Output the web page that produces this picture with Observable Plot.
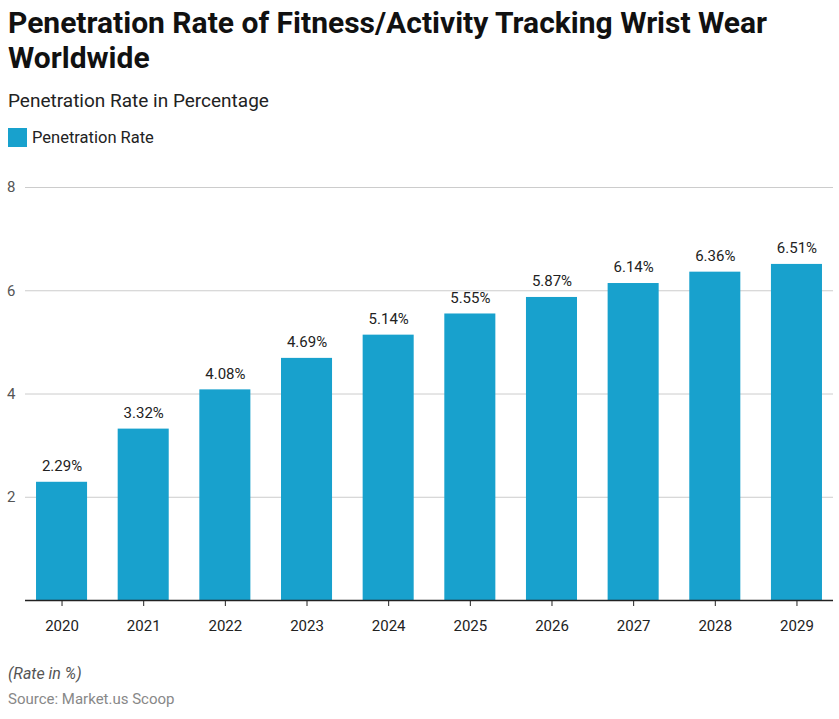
<!DOCTYPE html>
<html><head><meta charset="utf-8">
<script src="https://cdn.jsdelivr.net/npm/d3@7"></script>
<script src="https://cdn.jsdelivr.net/npm/@observablehq/plot@0.6"></script>
<style>
body{margin:0;background:#fff;font-family:Roboto,sans-serif;width:839px;height:719px;position:relative;overflow:hidden}
#title{position:absolute;left:8px;top:5px;width:800px;font-size:30px;font-weight:700;line-height:35px;color:#111}
#sub{position:absolute;left:8px;top:89px;font-size:19px;color:#222}
#legend{position:absolute;left:8px;top:128px;font-size:16.5px;color:#222;display:flex;align-items:center}
#legend span.sw{display:inline-block;width:19px;height:19px;background:#18A1CD;margin-right:5px}
#chart{position:absolute;left:0;top:170px}
#note{position:absolute;left:8px;top:664px;font-size:16px;font-style:italic;color:#555}
#src{position:absolute;left:8px;top:690px;font-size:15px;color:#888}
</style></head><body>
<div id="title">Penetration Rate of Fitness/Activity Tracking Wrist Wear Worldwide</div>
<div id="sub">Penetration Rate in Percentage</div>
<div id="legend"><span class="sw"></span>Penetration Rate</div>
<div id="chart"></div>
<div id="note">(Rate in %)</div>
<div id="src">Source: Market.us Scoop</div>
<script>
const years = ["2020","2021","2022","2023","2024","2025","2026","2027","2028","2029"];
const rates = [2.29,3.32,4.08,4.69,5.14,5.55,5.87,6.14,6.36,6.51];
const yTicks = [2,4,6,8];
const data = years.map((y,i)=>({year:y, rate:rates[i]}));
const chart = Plot.plot({
  width: 839, height: 470,
  marginTop: 17, marginBottom: 40, marginLeft: 25, marginRight: 6,
  style: {fontFamily: "Roboto, sans-serif", fontSize: "15px", color: "#333", background: "transparent"},
  x: {domain: years, paddingInner: 0.375, paddingOuter: 0.135, round: false, label: null},
  y: {domain: [0, 8], label: null},
  marks: [
    Plot.gridY(yTicks, {stroke: "#ccc", strokeOpacity: 1, strokeWidth: 1}),
    Plot.axisY(yTicks, {tickSize: 0, tickPadding: 10, fontSize: 15, fill: "#555", label: null, tickFormat: d => String(d)}),
    Plot.barY(data, {x: "year", y: "rate", fill: "#18A1CD"}),
    Plot.text(data, {x: "year", y: "rate", text: d => d.rate.toFixed(2) + "%", dy: -16, fontSize: 15, fill: "#222"}),
    Plot.ruleY([0], {stroke: "#222", strokeWidth: 1.5}),
    Plot.axisX({tickSize: 6, tickPadding: 14, fontSize: 15, fill: "#222", stroke: "#222", label: null})
  ]
});
document.getElementById("chart").appendChild(chart);
</script>
</body></html>
